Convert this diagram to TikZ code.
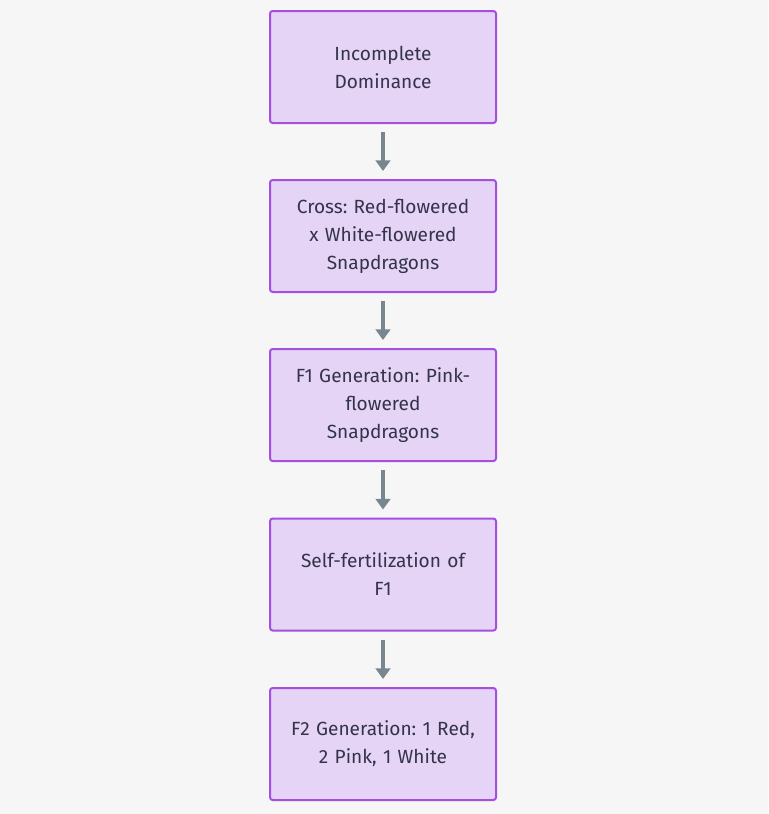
\documentclass[tikz,border=0pt]{standalone}
\usepackage{fontspec}
\setmainfont{Fira Sans}
\usetikzlibrary{arrows.meta}
\definecolor{bg}{HTML}{F6F6F6}
\definecolor{boxfill}{HTML}{E5D4F5}
\definecolor{boxdraw}{HTML}{A54FE0}
\definecolor{txt}{HTML}{33334A}
\definecolor{arr}{HTML}{77868F}
\frenchspacing
\begin{document}
\begin{tikzpicture}[x=0.75pt,y=-0.75pt,
  box/.style={draw=boxdraw,line width=1.5pt,fill=boxfill,rounded corners=2pt,
    minimum width=226*0.75pt,minimum height=112*0.75pt,text width=150pt,align=center,
    text=txt,font=\fontsize{14.3}{21}\selectfont},
  ar/.style={draw=arr,line width=2.8pt,-{Triangle[length=8pt,width=11pt]}}]
\fill[bg] (0,0) rectangle (768,814);
\useasboundingbox (0,0) rectangle (768,814);
\node[box] (a) at (383,67) {Incomplete\\Dominance};
\node[box] (b) at (383,236) {Cross: Red-flowered\\x White-flowered\\Snapdragons};
\node[box] (c) at (383,405) {F1 Generation: Pink-\\flowered\\Snapdragons};
\node[box] (d) at (383,574.5) {Self-fertilization of\\F1};
\node[box] (e) at (383,744) {F2 Generation: 1 Red,\\2 Pink, 1 White};
\draw[ar] ([yshift=-6pt]a.south) -- ([yshift=6pt]b.north);
\draw[ar] ([yshift=-6pt]b.south) -- ([yshift=6pt]c.north);
\draw[ar] ([yshift=-6pt]c.south) -- ([yshift=6pt]d.north);
\draw[ar] ([yshift=-6pt]d.south) -- ([yshift=6pt]e.north);
\end{tikzpicture}
\end{document}
